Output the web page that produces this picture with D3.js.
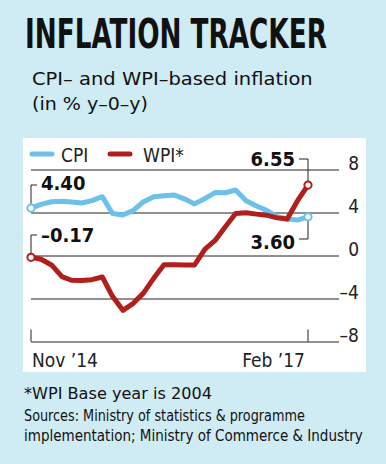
<!DOCTYPE html>
<html>
<head>
<meta charset="utf-8">
<script src="https://cdn.jsdelivr.net/npm/d3@7"></script>
<style>
  html, body { margin: 0; padding: 0; background: #cfebf3; }
  svg { display: block; }
  text { font-family: "DejaVu Sans Condensed", "DejaVu Sans", sans-serif; }
</style>
</head>
<body>
<svg id="chart"></svg>
<script>
// Monthly readings, Nov 2014 to Feb 2017
const months = ['2014-11', '2014-12', '2015-01', '2015-02', '2015-03', '2015-04', '2015-05',
  '2015-06', '2015-07', '2015-08', '2015-09', '2015-10', '2015-11', '2015-12', '2016-01',
  '2016-02', '2016-03', '2016-04', '2016-05', '2016-06', '2016-07', '2016-08', '2016-09',
  '2016-10', '2016-11', '2016-12', '2017-01', '2017-02'];
const cpi = [4.40, 4.75, 5.0, 5.05, 4.98, 4.88, 5.1, 5.47, 3.9, 3.77, 4.2, 5.0, 5.47, 5.55,
  5.63, 5.25, 4.8, 5.3, 5.85, 5.84, 6.09, 5.1, 4.6, 4.2, 3.62, 3.4, 3.3, 3.60];
const wpi = [-0.17, -0.35, -0.88, -1.97, -2.3, -2.33, -2.25, -2.0, -3.8, -5.1, -4.45, -3.5,
  -2.1, -0.85, -0.85, -0.88, -0.88, 0.6, 1.4, 2.7, 3.9, 3.98, 3.85, 3.75, 3.5, 3.4, 5.1, 6.55];
const yTicks = [8, 4, 0, -4, -8];
const xLabels = ['Nov \u201914', 'Feb \u201917'];

const width = 386;
const height = 464;
const parse = d3.timeParse('%Y-%m');
const dates = months.map(parse);

const svg = d3.select('#chart')
  .attr('width', width)
  .attr('height', height);

svg.append('rect')
  .attr('width', width)
  .attr('height', height)
  .attr('fill', '#cfebf3');

// squeeze a text horizontally so it spans w pixels from x
function fitText(g, x, y, w, size, weight, str) {
  const t = svg.append('text')
    .attr('font-size', size)
    .attr('font-weight', weight)
    .attr('fill', '#111')
    .text(str);
  const len = t.node().getComputedTextLength();
  t.attr('transform', `translate(${x},${y}) scale(${w / len},1)`);
  return t;
}

// Header
fitText(svg, 25, 48, 302, 41, 'bold', 'INFLATION TRACKER');
fitText(svg, 32, 85, 281, 18, 'normal', 'CPI\u2013 and WPI\u2013based inflation');
fitText(svg, 32, 110, 116, 18, 'normal', '(in % y\u20130\u2013y)');

// White panel
svg.append('rect')
  .attr('x', 23)
  .attr('y', 138)
  .attr('width', 343)
  .attr('height', 234)
  .attr('fill', '#fff');

const x = d3.scaleTime()
  .domain(d3.extent(dates))
  .range([31, 308]);

const y = d3.scaleLinear()
  .domain([-8, 8])
  .range([341.5, 169.5]);

// Gridlines + y labels
const yAxis = d3.axisRight(y)
  .tickValues(yTicks)
  .tickSize(308)
  .tickFormat(d => d < 0 ? '\u2013' + Math.abs(d) : d);

const gy = svg.append('g')
  .attr('transform', 'translate(31,0)')
  .call(yAxis);
gy.select('.domain').remove();
gy.selectAll('line')
  .attr('stroke', '#222')
  .attr('stroke-width', 1);
gy.selectAll('text')
  .attr('x', 328)
  .attr('dy', 0)
  .attr('text-anchor', 'end')
  .attr('font-size', 19)
  .attr('fill', '#222');

// x ticks at the two ends
const ends = [dates[0], dates[dates.length - 1]];
svg.selectAll('.xtick')
  .data(ends)
  .join('line')
  .attr('class', 'xtick')
  .attr('x1', d => x(d))
  .attr('x2', d => x(d))
  .attr('y1', y(-8) - 12)
  .attr('y2', y(-8))
  .attr('stroke', '#222');

svg.selectAll('.xlabel')
  .data(ends)
  .join('text')
  .attr('class', 'xlabel')
  .attr('x', (d, i) => i === 0 ? x(d) + 1 : x(d) - 3)
  .attr('y', 367)
  .attr('text-anchor', (d, i) => i === 0 ? 'start' : 'end')
  .attr('font-size', 19)
  .attr('fill', '#222')
  .text((d, i) => xLabels[i]);

// Lines
const line = d3.line()
  .x((d, i) => x(dates[i]))
  .y(d => y(d));

const series = [
  { name: 'CPI', values: cpi, color: '#6cc0ea' },
  { name: 'WPI*', values: wpi, color: '#b01f1c' }
];

svg.selectAll('.series')
  .data(series)
  .join('path')
  .attr('class', 'series')
  .attr('d', d => line(d.values))
  .attr('fill', 'none')
  .attr('stroke', d => d.color)
  .attr('stroke-width', 5)
  .attr('stroke-linejoin', 'round')
  .attr('stroke-linecap', 'round');

// Leader brackets
const last = dates.length - 1;
const leaders = [
  { pts: [[x(dates[0]), y(cpi[0])], [x(dates[0]), 185], [37, 185]] },
  { pts: [[x(dates[0]), y(wpi[0])], [x(dates[0]), 235], [37, 235]] },
  { pts: [[x(dates[last]), y(wpi[last])], [x(dates[last]), 159], [299, 159]] },
  { pts: [[x(dates[last]), y(cpi[last])], [x(dates[last]), 239], [299, 239]] }
];
svg.selectAll('.leader')
  .data(leaders)
  .join('path')
  .attr('class', 'leader')
  .attr('d', d => d3.line()(d.pts))
  .attr('fill', 'none')
  .attr('stroke', '#222')
  .attr('stroke-width', 1);

// End markers
const markers = [];
series.forEach(s => {
  markers.push({ v: s.values[0], i: 0, color: s.color });
  markers.push({ v: s.values[last], i: last, color: s.color });
});
svg.selectAll('.marker')
  .data(markers)
  .join('circle')
  .attr('class', 'marker')
  .attr('cx', d => x(dates[d.i]))
  .attr('cy', d => y(d.v))
  .attr('r', 3.6)
  .attr('fill', '#fff')
  .attr('stroke', d => d.color)
  .attr('stroke-width', 2);

// Value labels
const valueLabels = [
  { text: cpi[0].toFixed(2), x: 41, y: 190, anchor: 'start' },
  { text: '\u2013' + Math.abs(wpi[0]).toFixed(2), x: 41, y: 242, anchor: 'start' },
  { text: wpi[last].toFixed(2), x: 295, y: 166, anchor: 'end' },
  { text: cpi[last].toFixed(2), x: 295, y: 249, anchor: 'end' }
];
svg.selectAll('.vlabel')
  .data(valueLabels)
  .join('text')
  .attr('class', 'vlabel')
  .attr('x', d => d.x)
  .attr('y', d => d.y)
  .attr('text-anchor', d => d.anchor)
  .attr('font-size', 20)
  .attr('font-weight', 'bold')
  .attr('fill', '#111')
  .text(d => d.text);

// Legend
const legendPos = [{ lx: 30, tx: 61 }, { lx: 108, tx: 143 }];
const legend = svg.selectAll('.legend')
  .data(series)
  .join('g')
  .attr('class', 'legend')
  .attr('transform', (d, i) => `translate(${legendPos[i].lx},154)`);
legend.append('line')
  .attr('x1', 2)
  .attr('x2', 22)
  .attr('stroke', d => d.color)
  .attr('stroke-width', 5)
  .attr('stroke-linecap', 'round');
legend.append('text')
  .attr('x', (d, i) => legendPos[i].tx - legendPos[i].lx)
  .attr('y', 8)
  .attr('font-size', 19)
  .attr('fill', '#222')
  .text(d => d.name);

// Footer
fitText(svg, 24, 399, 188, 15, 'normal', '*WPI Base year is 2004');
fitText(svg, 24, 421, 281, 15, 'normal', 'Sources: Ministry of statistics & programme');
fitText(svg, 24, 441, 339, 15, 'normal', 'implementation; Ministry of Commerce & Industry');
</script>
</body>
</html>
